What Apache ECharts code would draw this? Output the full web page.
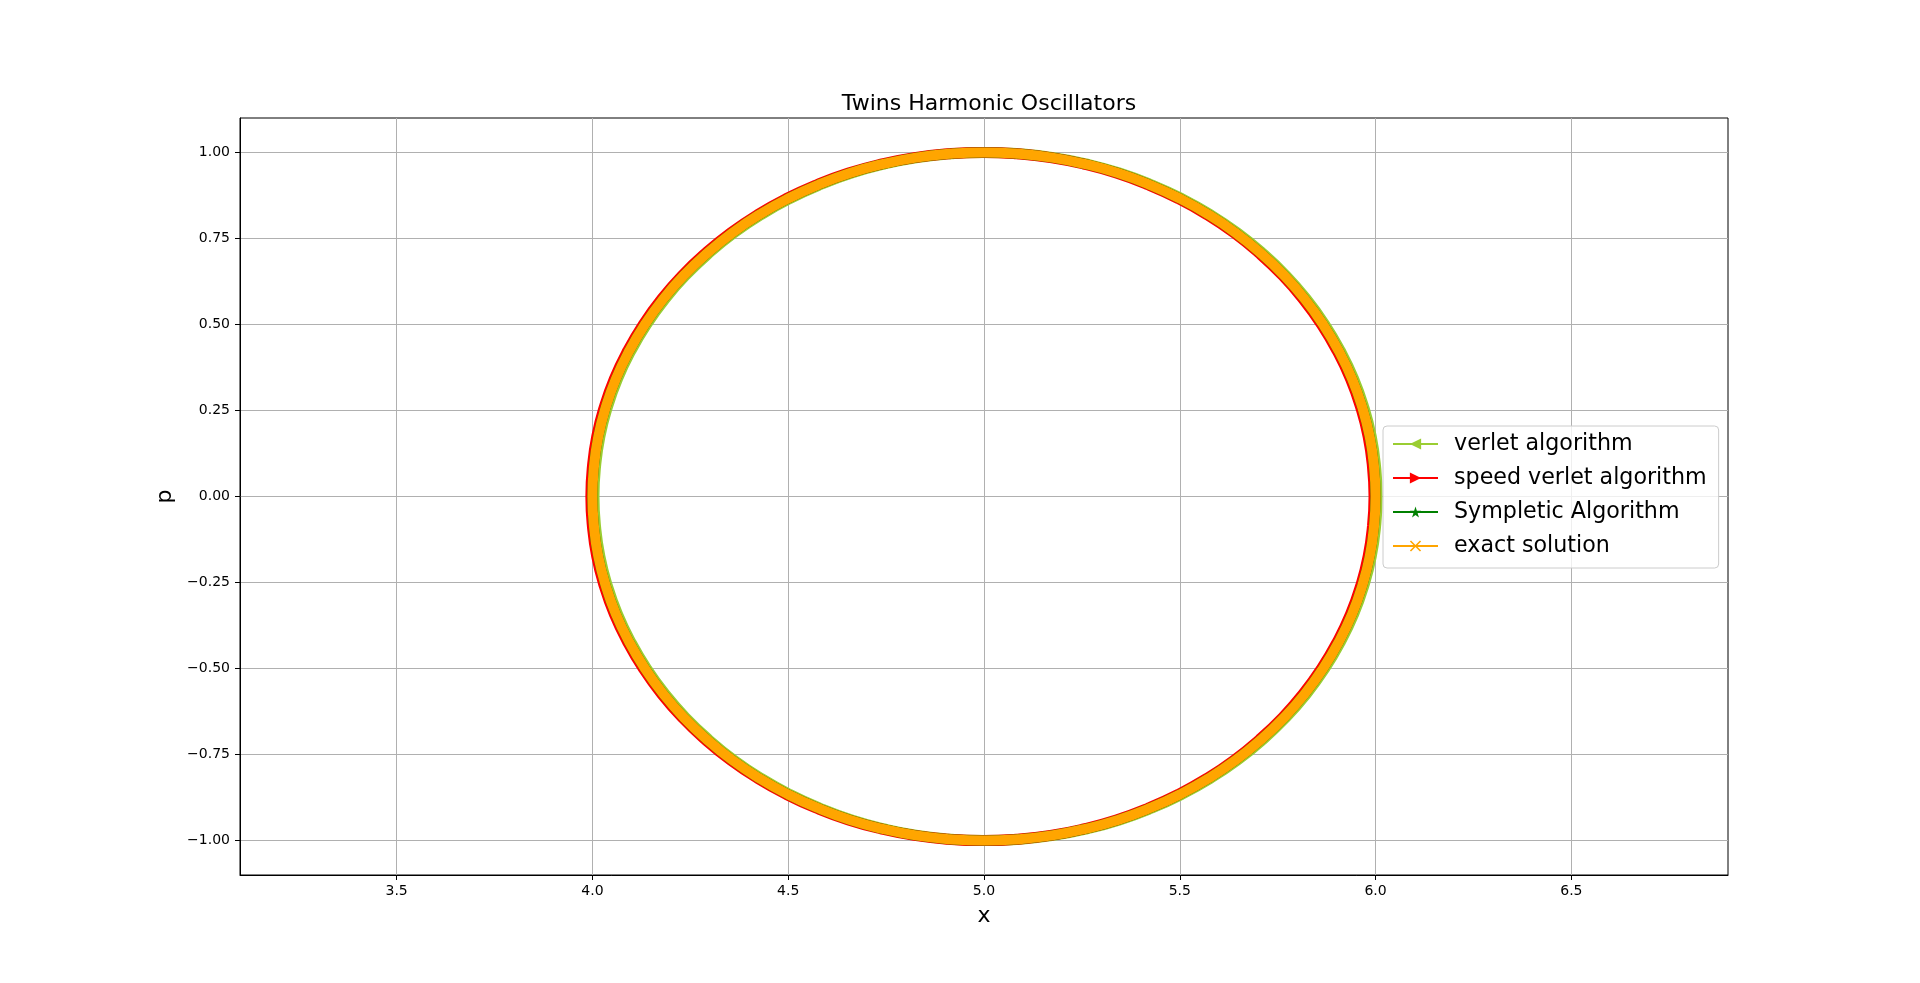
<!DOCTYPE html>
<html>
<head>
<meta charset="utf-8">
<script src="https://cdn.jsdelivr.net/npm/echarts@6/dist/echarts.min.js"></script>
<style>html,body{margin:0;padding:0;background:#fff;}#c{width:1920px;height:983px;}</style>
</head>
<body>
<div id="c"></div>
<script>
// Phase-space samples (theta from -5° to 365°, every 5°)
const exactX = [5.996, 6.000, 5.996, 5.985, 5.966, 5.940, 5.906, 5.866, 5.819, 5.766, 5.707, 5.643, 5.574, 5.500, 5.423, 5.342, 5.259, 5.174, 5.087, 5.000, 4.913, 4.826, 4.741, 4.658, 4.577, 4.500, 4.426, 4.357, 4.293, 4.234, 4.181, 4.134, 4.094, 4.060, 4.034, 4.015, 4.004, 4.000, 4.004, 4.015, 4.034, 4.060, 4.094, 4.134, 4.181, 4.234, 4.293, 4.357, 4.426, 4.500, 4.577, 4.658, 4.741, 4.826, 4.913, 5.000, 5.087, 5.174, 5.259, 5.342, 5.423, 5.500, 5.574, 5.643, 5.707, 5.766, 5.819, 5.866, 5.906, 5.940, 5.966, 5.985, 5.996, 6.000, 5.996];
const exactP = [-0.087, 0.000, 0.087, 0.174, 0.259, 0.342, 0.423, 0.500, 0.574, 0.643, 0.707, 0.766, 0.819, 0.866, 0.906, 0.940, 0.966, 0.985, 0.996, 1.000, 0.996, 0.985, 0.966, 0.940, 0.906, 0.866, 0.819, 0.766, 0.707, 0.643, 0.574, 0.500, 0.423, 0.342, 0.259, 0.174, 0.087, 0.000, -0.087, -0.174, -0.259, -0.342, -0.423, -0.500, -0.574, -0.643, -0.707, -0.766, -0.819, -0.866, -0.906, -0.940, -0.966, -0.985, -0.996, -1.000, -0.996, -0.985, -0.966, -0.940, -0.906, -0.866, -0.819, -0.766, -0.707, -0.643, -0.574, -0.500, -0.423, -0.342, -0.259, -0.174, -0.087, 0.000, 0.087];
const verletX = [6.000, 6.004, 6.000, 5.989, 5.970, 5.944, 5.910, 5.870, 5.823, 5.770, 5.711, 5.647, 5.578, 5.504, 5.427, 5.346, 5.263, 5.178, 5.091, 5.004, 4.917, 4.830, 4.745, 4.662, 4.581, 4.504, 4.430, 4.361, 4.297, 4.238, 4.185, 4.138, 4.098, 4.064, 4.038, 4.019, 4.008, 4.004, 4.008, 4.019, 4.038, 4.064, 4.098, 4.138, 4.185, 4.238, 4.297, 4.361, 4.430, 4.504, 4.581, 4.662, 4.745, 4.830, 4.917, 5.004, 5.091, 5.178, 5.263, 5.346, 5.427, 5.504, 5.578, 5.647, 5.711, 5.770, 5.823, 5.870, 5.910, 5.944, 5.970, 5.989, 6.000, 6.004, 6.000];
const verletP = [-0.087, 0.000, 0.087, 0.174, 0.259, 0.342, 0.423, 0.500, 0.574, 0.643, 0.707, 0.766, 0.819, 0.866, 0.906, 0.940, 0.966, 0.985, 0.996, 1.000, 0.996, 0.985, 0.966, 0.940, 0.906, 0.866, 0.819, 0.766, 0.707, 0.643, 0.574, 0.500, 0.423, 0.342, 0.259, 0.174, 0.087, 0.000, -0.087, -0.174, -0.259, -0.342, -0.423, -0.500, -0.574, -0.643, -0.707, -0.766, -0.819, -0.866, -0.906, -0.940, -0.966, -0.985, -0.996, -1.000, -0.996, -0.985, -0.966, -0.940, -0.906, -0.866, -0.819, -0.766, -0.707, -0.643, -0.574, -0.500, -0.423, -0.342, -0.259, -0.174, -0.087, 0.000, 0.087];
const speedX = [5.992, 5.996, 5.992, 5.981, 5.962, 5.936, 5.902, 5.862, 5.815, 5.762, 5.703, 5.639, 5.570, 5.496, 5.419, 5.338, 5.255, 5.170, 5.083, 4.996, 4.909, 4.822, 4.737, 4.654, 4.573, 4.496, 4.422, 4.353, 4.289, 4.230, 4.177, 4.130, 4.090, 4.056, 4.030, 4.011, 4.000, 3.996, 4.000, 4.011, 4.030, 4.056, 4.090, 4.130, 4.177, 4.230, 4.289, 4.353, 4.422, 4.496, 4.573, 4.654, 4.737, 4.822, 4.909, 4.996, 5.083, 5.170, 5.255, 5.338, 5.419, 5.496, 5.570, 5.639, 5.703, 5.762, 5.815, 5.862, 5.902, 5.936, 5.962, 5.981, 5.992, 5.996, 5.992];
const speedP = [-0.087, 0.000, 0.087, 0.174, 0.259, 0.342, 0.423, 0.500, 0.574, 0.643, 0.707, 0.766, 0.819, 0.866, 0.906, 0.940, 0.966, 0.985, 0.996, 1.000, 0.996, 0.985, 0.966, 0.940, 0.906, 0.866, 0.819, 0.766, 0.707, 0.643, 0.574, 0.500, 0.423, 0.342, 0.259, 0.174, 0.087, 0.000, -0.087, -0.174, -0.259, -0.342, -0.423, -0.500, -0.574, -0.643, -0.707, -0.766, -0.819, -0.866, -0.906, -0.940, -0.966, -0.985, -0.996, -1.000, -0.996, -0.985, -0.966, -0.940, -0.906, -0.866, -0.819, -0.766, -0.707, -0.643, -0.574, -0.500, -0.423, -0.342, -0.259, -0.174, -0.087, 0.000, 0.087];
const sympX = [5.996, 6.000, 5.996, 5.985, 5.966, 5.940, 5.906, 5.866, 5.819, 5.766, 5.707, 5.643, 5.574, 5.500, 5.423, 5.342, 5.259, 5.174, 5.087, 5.000, 4.913, 4.826, 4.741, 4.658, 4.577, 4.500, 4.426, 4.357, 4.293, 4.234, 4.181, 4.134, 4.094, 4.060, 4.034, 4.015, 4.004, 4.000, 4.004, 4.015, 4.034, 4.060, 4.094, 4.134, 4.181, 4.234, 4.293, 4.357, 4.426, 4.500, 4.577, 4.658, 4.741, 4.826, 4.913, 5.000, 5.087, 5.174, 5.259, 5.342, 5.423, 5.500, 5.574, 5.643, 5.707, 5.766, 5.819, 5.866, 5.906, 5.940, 5.966, 5.985, 5.996, 6.000, 5.996];
const sympP = [-0.087, 0.000, 0.087, 0.174, 0.259, 0.342, 0.423, 0.500, 0.574, 0.643, 0.707, 0.766, 0.819, 0.866, 0.906, 0.940, 0.966, 0.985, 0.996, 1.000, 0.996, 0.985, 0.966, 0.940, 0.906, 0.866, 0.819, 0.766, 0.707, 0.643, 0.574, 0.500, 0.423, 0.342, 0.259, 0.174, 0.087, 0.000, -0.087, -0.174, -0.259, -0.342, -0.423, -0.500, -0.574, -0.643, -0.707, -0.766, -0.819, -0.866, -0.906, -0.940, -0.966, -0.985, -0.996, -1.000, -0.996, -0.985, -0.966, -0.940, -0.906, -0.866, -0.819, -0.766, -0.707, -0.643, -0.574, -0.500, -0.423, -0.342, -0.259, -0.174, -0.087, 0.000, 0.087];

const xTicks = [3.5, 4.0, 4.5, 5.0, 5.5, 6.0, 6.5];
const pTicks = [-1.0, -0.75, -0.5, -0.25, 0, 0.25, 0.5, 0.75, 1.0];
const seriesNames = ['verlet algorithm', 'speed verlet algorithm', 'Sympletic Algorithm', 'exact solution'];

const zip = (a, b) => a.map((v, i) => [v, b[i]]);
const FONT = 'DejaVu Sans';
const STAR = 'path://M5,0L6.2,3.6L10,3.6L6.9,5.9L8.1,9.5L5,7.3L1.9,9.5L3.1,5.9L0,3.6L3.8,3.6Z';
const CROSS = 'path://M1,0L5,4L9,0L10,1L6,5L10,9L9,10L5,6L1,10L0,9L4,5L0,1Z';

function mk(name, data, color, symbol, rot, width) {
  return {
    type: 'line', name: name, data: data, smooth: 0.5, showSymbol: false,
    symbol: symbol, symbolRotate: rot, symbolSize: 10, clip: true,
    lineStyle: { width: width, color: color, join: 'round' }, itemStyle: { color: color },
    emphasis: { disabled: true }
  };
}

const chart = echarts.init(document.getElementById('c'), null, { renderer: 'canvas' });
chart.setOption({
  animation: false,
  backgroundColor: '#ffffff',
  title: {
    text: 'Twins Harmonic Oscillators', left: 984, top: 88, textAlign: 'center',
    textStyle: { fontFamily: FONT, fontSize: 22, fontWeight: 'normal', color: '#000' }
  },
  grid: { left: 240, top: 118, width: 1488, height: 757, show: true, borderColor: '#000', borderWidth: 1, backgroundColor: 'transparent' },
  xAxis: {
    type: 'value', min: 3.1, max: 6.9,
    name: 'x', nameLocation: 'middle', nameGap: 30,
    nameTextStyle: { fontFamily: FONT, fontSize: 22, color: '#000' },
    axisLine: { show: true, onZero: false, lineStyle: { color: '#000', width: 1 } },
    axisTick: { show: true, customValues: xTicks, length: 5, inside: false, lineStyle: { color: '#000' } },
    axisLabel: { customValues: xTicks, margin: 9, fontFamily: FONT, fontSize: 14, color: '#000', formatter: v => v.toFixed(1) },
    splitLine: { show: true, lineStyle: { color: '#b0b0b0', width: 1 } }
  },
  yAxis: {
    type: 'value', min: -1.1, max: 1.1,
    name: 'p', nameLocation: 'middle', nameGap: 58,
    nameTextStyle: { fontFamily: FONT, fontSize: 22, color: '#000' },
    axisLine: { show: true, onZero: false, lineStyle: { color: '#000', width: 1 } },
    axisTick: { show: true, customValues: pTicks, length: 5, inside: false, lineStyle: { color: '#000' } },
    axisLabel: { customValues: pTicks, margin: 10, fontFamily: FONT, fontSize: 14, color: '#000',
      formatter: v => (v < 0 ? '\u2212' : '') + Math.abs(v).toFixed(2) },
    splitLine: { show: true, lineStyle: { color: '#b0b0b0', width: 1 } }
  },
  legend: {
    orient: 'vertical', left: 1383, top: 426,
    padding: [6, 12, 10, 9], itemGap: 10, itemWidth: 45, itemHeight: 14,
    backgroundColor: 'rgba(255,255,255,0.8)', borderColor: '#cccccc', borderWidth: 1, borderRadius: 4,
    data: seriesNames,
    lineStyle: { width: 2 },
    textStyle: { fontFamily: FONT, fontSize: 22.2, lineHeight: 24, color: '#000', padding: [0, 0, 0, 11] }
  },
  series: [
    mk(seriesNames[0], zip(verletX, verletP), '#9acd32', 'triangle', 90, 11),
    mk(seriesNames[1], zip(speedX, speedP), '#ff0000', 'triangle', -90, 11),
    mk(seriesNames[2], zip(sympX, sympP), '#008000', STAR, 0, 10),
    mk(seriesNames[3], zip(exactX, exactP), '#ffa500', CROSS, 0, 10)
  ]
});
</script>
</body>
</html>
